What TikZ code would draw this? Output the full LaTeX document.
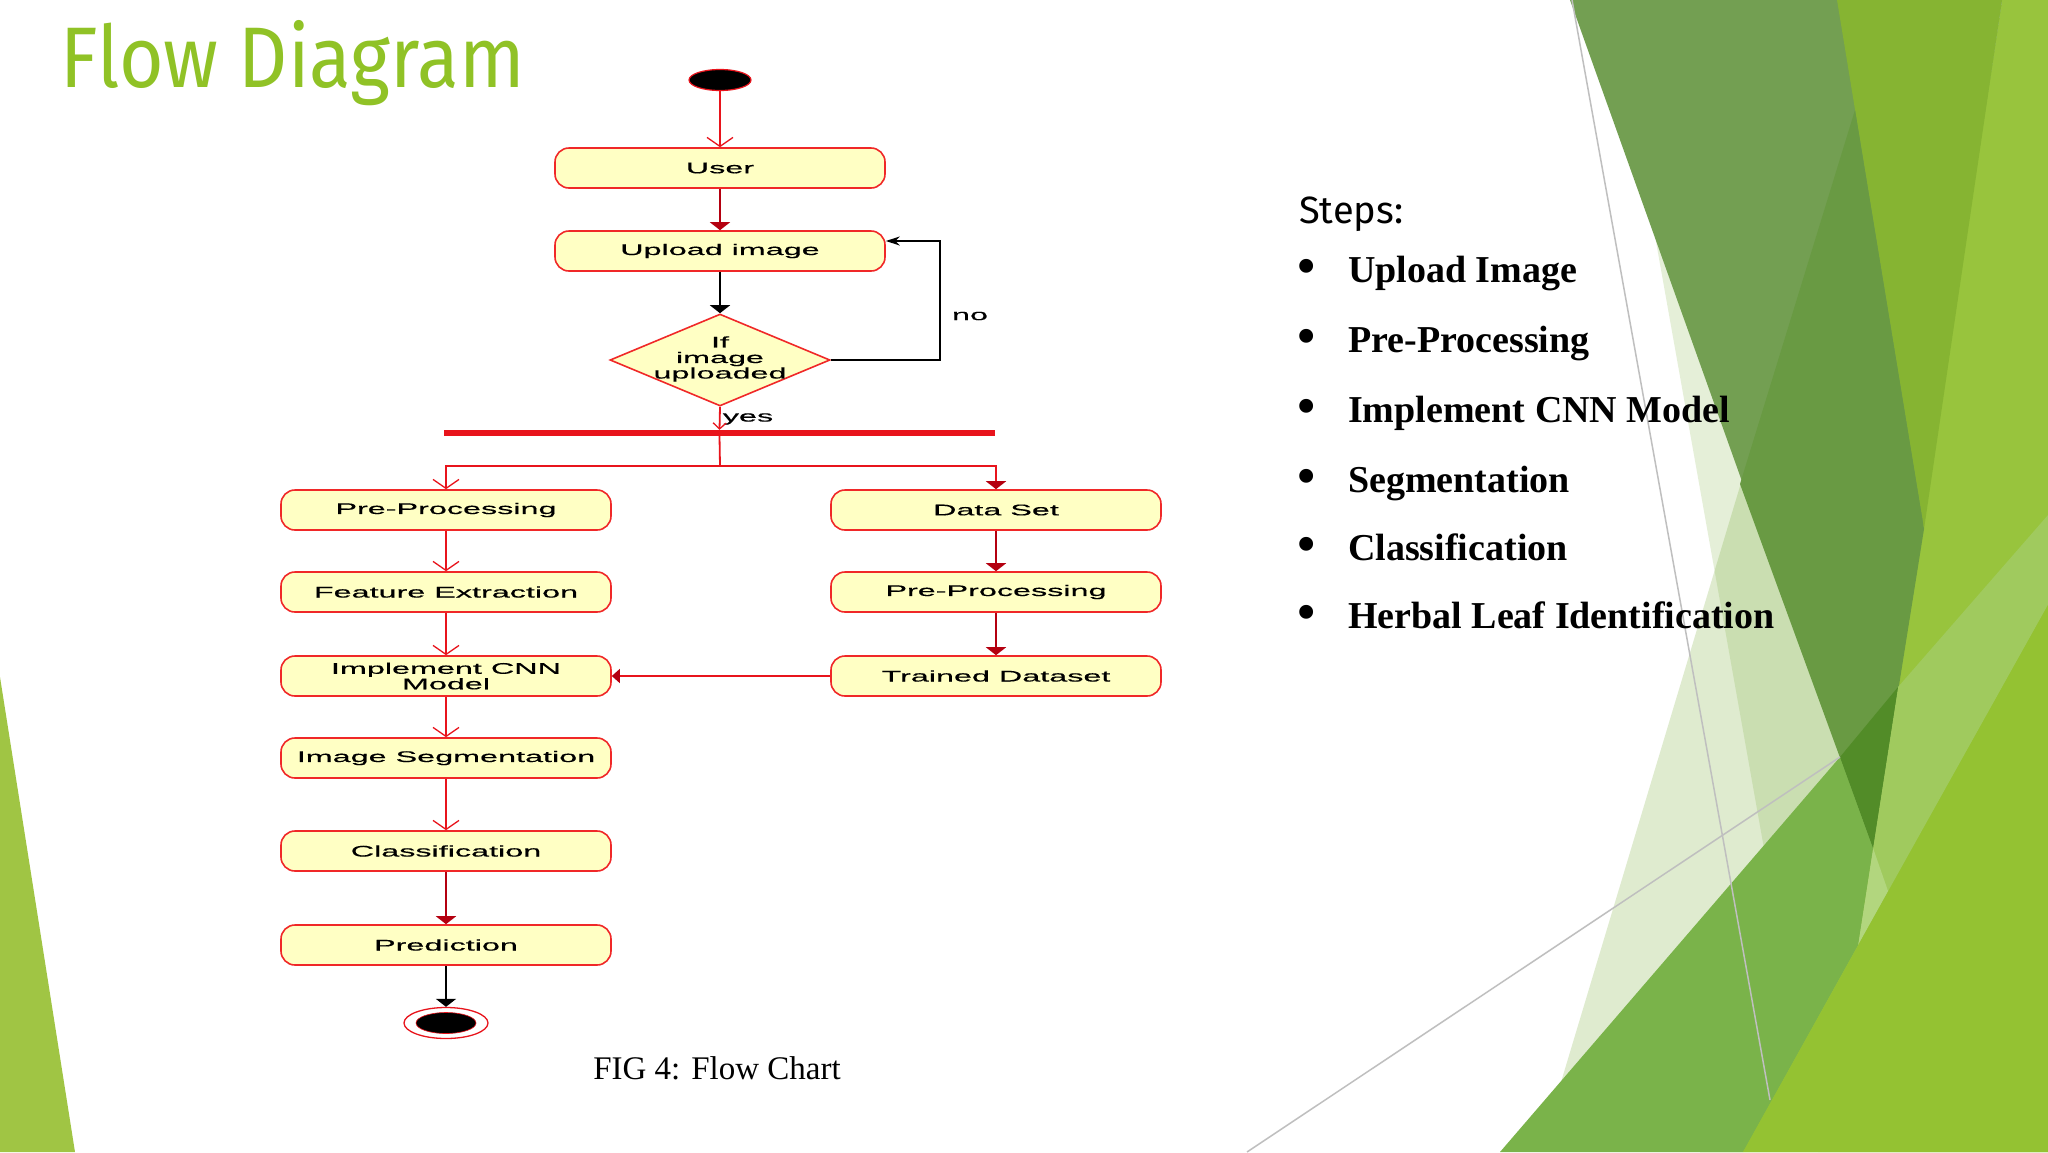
\documentclass[tikz,border=0pt]{standalone}
\usepackage{fontspec}
\setmainfont{Liberation Serif}
\newfontfamily\flowfont[FakeStretch=2.1,FakeBold=0.4]{Liberation Sans}
\newfontfamily\titlefont[FakeStretch=0.89]{Fira Sans}
\newfontfamily\stepsfont{Fira Sans}
\usetikzlibrary{shapes.geometric,arrows.meta}
\definecolor{lred}{HTML}{E8141C}
\definecolor{dred}{HTML}{B40010}
\definecolor{boxred}{HTML}{F02828}
\definecolor{boxfill}{HTML}{FFFFC4}
\definecolor{titlegreen}{HTML}{90C226}
\definecolor{gA}{HTML}{739F52}
\definecolor{gY}{HTML}{86B432}
\definecolor{gF}{HTML}{98C43D}
\definecolor{gAB}{HTML}{699A43}
\definecolor{gTip}{HTML}{528C28}
\definecolor{gG}{HTML}{7AB34A}
\definecolor{gL}{HTML}{A0CA5E}
\definecolor{gS}{HTML}{B2D67E}
\definecolor{gE}{HTML}{94C232}
\definecolor{gLeft}{HTML}{A0C544}
\definecolor{gD}{RGB}{120,170,50}
\definecolor{gB}{RGB}{110,165,40}
\definecolor{lgray}{HTML}{BFBFBF}
\begin{document}
\begin{tikzpicture}[x=1pt,y=-1pt,
  box/.style={draw=boxred, fill=boxfill, line width=1.6pt, rounded corners=14pt,
    minimum width=330pt, minimum height=40pt, inner sep=0pt, align=center,
    font={\flowfont\fontsize{15.4}{15.5}\selectfont}, text=black},
  lbl/.style={inner sep=0pt, align=center, font={\flowfont\fontsize{15.4}{15.5}\selectfont}, text=black},
  redarr/.style={draw=lred, line width=1.8pt, -{Straight Barb[length=9pt,width=26pt,line width=1.3pt]}},
  redline/.style={draw=lred, line width=1.8pt},
  darr/.style={draw=dred, line width=1.8pt, -{Triangle[length=8pt,width=20pt]}},
  barr/.style={draw=black, line width=1.8pt, -{Triangle[length=8pt,width=20pt]}},
  stepitem/.style={anchor=base west, inner sep=0pt, font={\bfseries\fontsize{38}{40}\selectfont}},
  stepbullet/.style={anchor=base, inner sep=0pt, font={\fontsize{58}{60}\selectfont}}
]
\useasboundingbox (0,0) rectangle (2048,1152);
\fill[white] (0,0) rectangle (2048,1152);

% ---------- background facets ----------
\fill[gLeft] (0,677) -- (75,1152) -- (0,1152) -- cycle;
\fill[gD, fill opacity=0.19] (1613,0) -- (1818,1152) -- (2048,1152) -- (2048,0) -- cycle;
\fill[gB, fill opacity=0.22] (1853,110) -- (1540,1152) -- (2048,1152) -- (2048,110) -- cycle;
\fill[gF] (2002,0) -- (2048,0) -- (2048,1152) -- (1700,1152) -- (1873,848) -- cycle;
\fill[gA] (1570,0) -- (2002,0) -- (1873,848) -- cycle;
\fill[gY] (1837,0) -- (2002,0) -- (1924,529) -- cycle;
\fill[gAB] (1855,110) -- (1924,529) -- (1873,848) -- (1740,484) -- cycle;
\fill[gL] (1898,687) -- (2048,515) -- (2048,605) -- (1858,945) -- cycle;
\fill[gS] (1873,848) -- (1888,891) -- (1858,945) -- cycle;
\fill[gG] (1500,1152) -- (1743,1152) -- (1858,945) -- (1873,848) -- (1840,757) -- cycle;
\fill[gTip] (1840,757) -- (1898,687) -- (1873,848) -- cycle;
\fill[gE] (1743,1152) -- (2048,605) -- (2048,1152) -- cycle;
\draw[lgray, line width=1.5pt] (1572,0) -- (1770,1100);
\draw[lgray, line width=1.5pt] (1247,1152) -- (1840,757);

% ---------- title ----------
\node[anchor=base west, inner sep=0pt, text=titlegreen,
  font={\titlefont\fontsize{86}{100}\selectfont}] (title) at (60,87) {Flow Diagram};

% ---------- steps ----------
\node[anchor=base west, inner sep=0pt, font={\stepsfont\fontsize{38}{46}\selectfont}] (steps) at (1299,223) {Steps:};
\node[stepbullet] (b1) at (1307,285) {\textbullet};
\node[stepbullet] (b2) at (1307,355) {\textbullet};
\node[stepbullet] (b3) at (1307,425) {\textbullet};
\node[stepbullet] (b4) at (1307,495) {\textbullet};
\node[stepbullet] (b5) at (1307,563) {\textbullet};
\node[stepbullet] (b6) at (1307,631) {\textbullet};
\node[stepitem] (s1) at (1348,282) {Upload Image};
\node[stepitem] (s2) at (1348,352) {Pre-Processing};
\node[stepitem] (s3) at (1348,422) {Implement CNN Model};
\node[stepitem] (s4) at (1348,492) {Segmentation};
\node[stepitem] (s5) at (1348,560) {Classification};
\node[stepitem] (s6) at (1348,628) {Herbal Leaf Identification};

% ---------- flow chart ----------
\node[ellipse, fill=black, draw=lred, line width=1.2pt, minimum width=62pt, minimum height=21pt, inner sep=0pt] (start) at (720,80) {};
\node[box] (user) at (720,168) {User};
\node[box] (upload) at (720,251) {Upload image};
\node[diamond, draw=boxred, fill=boxfill, line width=1.6pt, minimum width=220pt, minimum height=92pt, inner sep=0pt] (dec) at (720,360) {};
\node[lbl] (dtext) at (720,359) {If\\image\\uploaded};
\node[lbl] (no) at (970,316) {no};
\node[lbl] (yes) at (748,419) {yes};
\node[fill=lred, minimum width=551pt, minimum height=6pt, inner sep=0pt] (bar) at (719.5,433) {};
\coordinate (split) at (720,466);
\coordinate (loopA) at (940,360);
\coordinate (loopB) at (940,241);

\node[box] (pre1) at (446,510) {Pre-Processing};
\node[box] (feat) at (446,592) {Feature Extraction};
\node[box] (cnn) at (446,676) {Implement CNN\\Model};
\node[box] (seg) at (446,758) {Image Segmentation};
\node[box] (cls) at (446,851) {Classification};
\node[box] (pred) at (446,945) {Prediction};
\node[box] (data) at (996,510) {Data Set};
\node[box] (pre2) at (996,592) {Pre-Processing};
\node[box] (train) at (996,676) {Trained Dataset};

\node[ellipse, draw=lred, fill=white, line width=1.3pt, minimum width=84pt, minimum height=31pt, inner sep=0pt] (endo) at (446,1023) {};
\node[ellipse, fill=black, draw=lred, line width=0.6pt, minimum width=60pt, minimum height=21pt, inner sep=0pt] (endi) at (446,1023) {};

\node[inner sep=0pt, font={\fontsize{33}{40}\selectfont}] (caption) at (717,1068) {FIG 4: Flow Chart};

\draw[redarr] (start) -- (user);
\draw[darr] (user) -- (upload);
\draw[barr] (upload) -- (dec);
\draw[draw=black, line width=1.4pt, -{Stealth[length=14pt,width=9pt]}] (dec.east) -- (loopA) -- (loopB) -- ([yshift=10pt]upload.east);
\draw[draw=lred, line width=1.8pt, -{Straight Barb[length=6pt,width=13pt,line width=1.3pt]}] (dec.south) -- (bar.north);
\draw[redline] (bar.south) -- (split);
\draw[redarr] (split) -| (pre1.north);
\draw[draw=lred, line width=1.8pt, -{Triangle[length=8pt,width=20pt,color=dred]}] (split) -| (data.north);
\draw[redarr] (pre1) -- (feat);
\draw[redarr] (feat) -- (cnn);
\draw[redarr] (cnn) -- (seg);
\draw[redarr] (seg) -- (cls);
\draw[darr] (cls) -- (pred);
\draw[barr] (pred) -- (endo);
\draw[darr] (data) -- (pre2);
\draw[darr] (pre2) -- (train);
\draw[draw=lred, line width=1.3pt, -{Triangle[length=8pt,width=14pt,color=dred]}] (train) -- (cnn);
\end{tikzpicture}
\end{document}
